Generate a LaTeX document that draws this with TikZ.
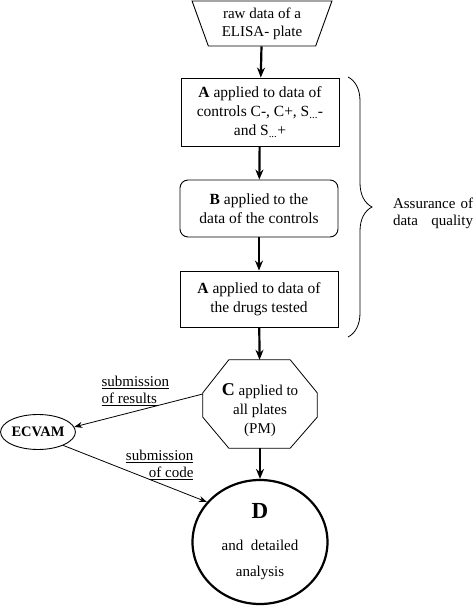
\documentclass[tikz,border=0pt]{standalone}
\usepackage{fontspec}
\setmainfont{Liberation Serif}
\usepackage{tikz}
\usetikzlibrary{arrows.meta,shapes.geometric,calc,decorations.pathreplacing}

\begin{document}
\begin{tikzpicture}[x=1pt,y=1pt,
  box/.style={draw,line width=0.9pt,minimum width=158pt,inner sep=2pt,align=center,font=\fontsize{15.5}{19}\selectfont},
  flow/.style={line width=2.2pt,-{Stealth[length=10pt,width=8pt]}},
  sub/.style={line width=0.8pt,-{Stealth[length=8pt,width=6pt]}},
  lbl/.style={font=\fontsize{15}{17}\selectfont}]
\useasboundingbox (0,0) rectangle (474,607);
% flow of the data
\node[trapezium,draw,line width=0.9pt,shape border rotate=180,trapezium stretches=true,
  trapezium left angle=69,trapezium right angle=69,minimum width=140pt,minimum height=45pt,
  inner sep=0pt,align=center,font=\fontsize{15}{18}\selectfont] (raw) at (262,583.5)
  {raw data of a\\ELISA- plate};
\node[box,minimum height=68pt] (ctrlA) at (260,495)
  {\textbf{A} applied to data of\\controls C-, C+, S\textsubscript{...}-\\and S\textsubscript{...}+};
\node[box,rounded corners=8pt,minimum height=57pt] (ctrlB) at (259,398.5)
  {\textbf{B} applied to the\\data of the controls};
\node[box,minimum height=56pt] (drugA) at (259,308)
  {\textbf{A} applied to data of\\the drugs tested};
\node[minimum width=114pt,minimum height=88pt,inner sep=0pt,
  label={[yshift=-6pt,align=center,font=\fontsize{15}{19}\selectfont]center:{{\fontsize{18}{18}\selectfont\bfseries C} applied to\\all plates\\(PM)}}]
  (plates) at (260,203) {};
\draw[line width=0.8pt] ($(plates.north west)+(26,0)$) -- ($(plates.north east)+(-27,0)$)
  -- ($(plates.north east)+(0,-33)$) -- ($(plates.south east)+(0,31)$)
  -- ($(plates.south east)+(-27,0)$) -- ($(plates.south west)+(26,0)$)
  -- ($(plates.south west)+(0,31)$) -- ($(plates.north west)+(0,-33)$) -- cycle;
\node[ellipse,draw,line width=2.2pt,minimum width=135pt,minimum height=124pt,inner sep=0pt,
  align=center,font=\fontsize{15}{26}\selectfont] (detail) at (260,65)
  {{\fontsize{23}{23}\selectfont\bfseries D}\\[6pt]and\ \ detailed\\analysis};
\node[ellipse,draw,line width=0.9pt,minimum width=73pt,minimum height=35pt,inner sep=0pt,
  font=\fontsize{14.5}{16}\selectfont\bfseries] (ecvam) at (38,175) {ECVAM};

\draw[flow] (raw) -- (ctrlA);
\draw[flow] (ctrlA) -- (ctrlB);
\draw[flow] (ctrlB) -- (drugA);
\draw[flow] (drugA) -- (plates);
\draw[flow] (plates) -- (detail);
\draw[sub] ($(plates.west)+(0,10)$) -- (ecvam.8);
\draw[sub] (ecvam.-28) -- (detail.143);

\node[lbl,align=left,anchor=west] (resl) at (98,216) {\underline{submission}\\\underline{of results}};
\node[lbl,align=right,anchor=east] (codel) at (197,142) {\underline{submission}\\\underline{of code}};

% quality bracket
\coordinate (qtop) at (348,530);
\coordinate (qbot) at (348,270);
\draw[line width=0.8pt,decorate,decoration={brace,amplitude=24pt}] (qtop) -- (qbot);
\node[lbl,align=left] (qual) at (433,394)
  {\makebox[80pt][s]{Assurance of}\\\makebox[80pt][s]{data quality}};
\end{tikzpicture}
\end{document}
